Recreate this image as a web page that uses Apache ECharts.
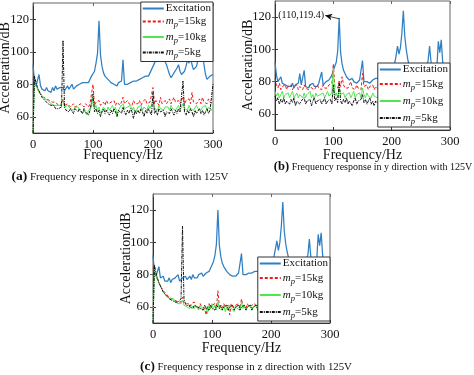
<!DOCTYPE html>
<html>
<head>
<meta charset="utf-8">
<script src="https://cdn.jsdelivr.net/npm/echarts@6/dist/echarts.min.js"></script>
<style>
  html, body { margin: 0; padding: 0; background: #fff; }
  #chart { width: 474px; height: 375px; }
</style>
</head>
<body>
<div id="chart"></div>
<script>
// frequency grid, Hz
const freq = [
  0, 2.5, 5, 7.5, 10, 12.5, 15, 17.5, 20, 22.5,
  25, 27.5, 30, 32.5, 35, 37.5, 40, 42.5, 45, 47.5,
  50, 52.5, 55, 57.5, 60, 62.5, 65, 67.5, 70, 72.5,
  75, 77.5, 80, 82.5, 85, 87.5, 90, 92.5, 95, 97.5,
  100, 102.5, 105, 107.5, 110, 112.5, 115, 117.5, 120, 122.5,
  125, 127.5, 130, 132.5, 135, 137.5, 140, 142.5, 145, 147.5,
  150, 152.5, 155, 157.5, 160, 162.5, 165, 167.5, 170, 172.5,
  175, 177.5, 180, 182.5, 185, 187.5, 190, 192.5, 195, 197.5,
  200, 202.5, 205, 207.5, 210, 212.5, 215, 217.5, 220, 222.5,
  225, 227.5, 230, 232.5, 235, 237.5, 240, 242.5, 245, 247.5,
  250, 252.5, 255, 257.5, 260, 262.5, 265, 267.5, 270, 272.5,
  275, 277.5, 280, 282.5, 285, 287.5, 290, 292.5, 295, 297.5,
  300
]
const yTicks = [60, 80, 100, 120]
const seriesNames = ["Excitation", "mp=15kg", "mp=10kg", "mp=5kg"]
const captions = [
  ["(a)", "Frequency response in x direction with 125V"],
  ["(b)", "Frequency response in y direction with 125V"],
  ["(c)", "Frequency response in z direction with 125V"]
]
const peakLabelB = [110, 119.4]

// (a) x direction
const aExc = [
  92, 82, 79, 80, 86, 79, 77, 78, 76, 78,
  76, 77, 75, 78, 76, 79, 77, 76, 78, 77,
  78, 76, 77, 79, 77, 78, 80, 77, 78, 79,
  78, 80, 79, 81, 80, 81, 82, 81, 83, 85,
  86, 88, 93, 99, 119, 98, 91, 87, 85, 84,
  83, 82, 81, 82, 80, 81, 79, 81, 80, 82,
  95, 80, 79, 80, 79, 81, 80, 82, 81, 82,
  81, 83, 82, 84, 83, 85, 86, 85, 87, 89,
  90, 93, 95, 97, 96, 98, 95, 97, 94, 92,
  89, 86, 84, 85, 87, 86, 90, 92, 88, 86,
  85, 88, 91, 95, 93, 97, 92, 89, 88, 91,
  95, 98, 94, 99, 92, 86, 83, 82, 85, 84,
  86
]
const a15 = [
  83, 82, 79, 77, 76, 74, 73, 72, 72, 71,
  70, 70, 69, 69, 68, 69, 68, 67, 68, 67,
  71, 67, 66, 68, 67, 66, 67, 68, 66, 67,
  67, 66, 68, 67, 66, 68, 67, 66, 68, 67,
  80, 67, 69, 68, 70, 67, 68, 69, 67, 70,
  68, 67, 69, 68, 70, 67, 69, 68, 67, 69,
  72, 68, 67, 70, 68, 69, 67, 70, 68, 69,
  68, 70, 67, 69, 68, 71, 68, 67, 69, 68,
  78, 68, 70, 69, 67, 72, 68, 69, 70, 68,
  69, 71, 68, 70, 72, 69, 68, 70, 68, 69,
  72, 68, 70, 69, 71, 68, 75, 69, 70, 68,
  69, 71, 68, 72, 69, 70, 68, 71, 69, 70,
  68
]
const a10 = [
  50, 81, 79, 77, 75, 74, 73, 72, 71, 70,
  70, 69, 68, 69, 67, 68, 67, 66, 67, 66,
  70, 66, 65, 67, 66, 65, 66, 64, 66, 65,
  66, 64, 65, 62, 64, 65, 61, 64, 65, 66,
  72, 65, 67, 64, 66, 62, 64, 66, 65, 63,
  66, 64, 65, 67, 64, 66, 61, 64, 66, 65,
  68, 65, 64, 66, 65, 67, 64, 66, 62, 64,
  66, 65, 67, 64, 66, 65, 64, 67, 65, 66,
  70, 65, 66, 64, 67, 65, 66, 64, 66, 65,
  66, 64, 67, 65, 66, 64, 65, 67, 64, 66,
  68, 65, 66, 64, 67, 65, 66, 64, 65, 67,
  65, 66, 64, 66, 65, 67, 64, 66, 65, 64,
  66
]
const a5 = [
  50, 85, 81, 78, 76, 74, 72, 71, 70, 69,
  68, 68, 67, 66, 67, 65, 66, 65, 64, 66,
  107, 66, 64, 65, 63, 65, 64, 62, 65, 64,
  63, 65, 64, 62, 65, 63, 64, 61, 64, 63,
  74, 63, 65, 62, 64, 60, 63, 65, 62, 64,
  63, 61, 64, 62, 65, 63, 60, 64, 63, 62,
  66, 63, 61, 64, 62, 65, 63, 59, 64, 62,
  64, 62, 65, 63, 60, 64, 62, 65, 63, 61,
  75, 62, 64, 61, 65, 63, 62, 64, 60, 63,
  64, 62, 65, 63, 61, 64, 62, 65, 63, 62,
  82, 63, 61, 64, 62, 65, 63, 60, 64, 62,
  63, 65, 62, 64, 61, 63, 65, 62, 64, 63,
  80
]

// (b) y direction
const bExc = [
  92, 84, 80, 81, 83, 79, 80, 78, 79, 77,
  78, 77, 79, 76, 78, 77, 79, 85, 78, 77,
  87, 77, 78, 76, 78, 77, 79, 77, 78, 77,
  79, 78, 86, 78, 79, 80, 79, 81, 82, 84,
  87, 88, 92, 99, 119.4, 98, 91, 87, 85, 83,
  82, 81, 80, 82, 80, 81, 79, 80, 81, 80,
  93, 80, 79, 80, 81, 79, 80, 81, 80, 82,
  81, 82, 81, 83, 82, 84, 83, 85, 84, 86,
  86, 88, 91, 96, 102, 97, 101, 110, 124, 108,
  100, 94, 90, 88, 86, 85, 84, 86, 85, 84,
  85, 84, 86, 88, 90, 93, 102, 92, 87, 86,
  86, 89, 105, 98, 106, 92, 87, 85, 86, 84,
  85
]
const b15 = [
  82, 78, 76, 79, 75, 77, 76, 78, 75, 77,
  76, 78, 75, 77, 76, 78, 75, 77, 76, 75,
  78, 76, 77, 75, 78, 76, 77, 75, 76, 78,
  76, 77, 75, 78, 76, 77, 76, 78, 77, 79,
  91, 77, 78, 76, 80, 77, 83, 78, 76, 77,
  76, 78, 80, 76, 77, 75, 78, 76, 77, 75,
  85, 77, 76, 78, 75, 77, 76, 78, 75, 77,
  76, 75, 77, 76, 78, 75, 77, 76, 78, 76,
  77, 75, 78, 76, 77, 75, 78, 76, 77, 75,
  76, 78, 75, 77, 76, 78, 75, 77, 76, 78,
  75, 77, 76, 78, 75, 77, 79, 76, 77, 75,
  77, 76, 78, 75, 77, 76, 78, 75, 77, 76,
  77
]
const b10 = [
  74, 71, 73, 70, 72, 74, 70, 72, 71, 73,
  70, 72, 74, 70, 71, 73, 70, 72, 71, 70,
  73, 70, 72, 71, 74, 70, 72, 69, 73, 71,
  70, 72, 71, 73, 70, 72, 74, 71, 70, 73,
  88, 71, 73, 70, 76, 72, 71, 73, 70, 72,
  71, 73, 70, 72, 74, 70, 72, 71, 73, 70,
  76, 72, 70, 73, 71, 72, 70, 73, 71, 72,
  70, 72, 71, 73, 70, 72, 71, 70, 73, 71,
  72, 70, 73, 71, 72, 70, 73, 71, 72, 70,
  71, 73, 70, 72, 71, 73, 70, 72, 71, 73,
  70, 72, 71, 73, 70, 72, 71, 73, 70, 72,
  71, 73, 70, 72, 71, 70, 73, 71, 72, 70,
  72
]
const b5 = [
  71, 68, 70, 66, 69, 67, 70, 66, 68, 69,
  66, 69, 67, 70, 65, 68, 69, 66, 68, 67,
  70, 66, 68, 67, 69, 65, 68, 70, 66, 68,
  67, 69, 66, 68, 70, 66, 68, 67, 69, 66,
  78, 68, 70, 67, 80, 68, 66, 69, 67, 70,
  66, 68, 69, 65, 68, 70, 66, 68, 67, 69,
  72, 67, 69, 66, 68, 70, 66, 68, 65, 68,
  69, 66, 68, 70, 66, 68, 67, 69, 66, 68,
  67, 69, 66, 68, 70, 66, 68, 67, 69, 66,
  68, 70, 66, 68, 67, 69, 66, 68, 70, 67,
  66, 68, 69, 67, 70, 66, 68, 67, 69, 66,
  68, 67, 69, 66, 68, 70, 67, 68, 66, 69,
  67
]

// (c) z direction
const cExc = [
  92, 81, 79, 80, 85, 78, 77, 79, 76, 77,
  76, 78, 75, 77, 76, 78, 77, 80, 76, 77,
  78, 77, 79, 77, 78, 79, 77, 80, 78, 79,
  78, 80, 79, 81, 79, 80, 81, 82, 82, 84,
  86, 88, 92, 99, 120, 98, 91, 87, 85, 84,
  82, 81, 80, 81, 79, 80, 79, 80, 81, 80,
  93, 80, 79, 80, 79, 81, 80, 81, 80, 82,
  81, 82, 81, 83, 82, 84, 83, 85, 84, 86,
  86, 88, 91, 96, 101, 95, 100, 110, 125, 107,
  99, 94, 90, 88, 86, 85, 84, 86, 85, 84,
  85, 84, 86, 88, 90, 92, 102, 91, 87, 86,
  86, 89, 105, 98, 106, 92, 87, 85, 86, 84,
  85
]
const c15 = [
  84, 82, 79, 77, 75, 73, 72, 70, 69, 68,
  68, 66, 67, 65, 66, 64, 65, 63, 64, 63,
  66, 62, 63, 61, 62, 60, 62, 61, 63, 60,
  61, 59, 62, 60, 61, 59, 55, 60, 62, 59,
  61, 60, 62, 59, 70, 60, 61, 59, 62, 60,
  59, 61, 55, 62, 60, 59, 61, 60, 62, 59,
  65, 60, 61, 59, 62, 60, 59, 61, 60, 62,
  60, 59, 62, 60, 61, 59, 62, 60, 61, 59,
  61, 60, 62, 59, 61, 60, 62, 60, 59, 61,
  60, 62, 59, 61, 60, 62, 59, 61, 60, 62,
  59, 61, 60, 62, 59, 61, 60, 62, 59, 61,
  60, 62, 59, 61, 60, 59, 62, 60, 61, 59,
  60
]
const c10 = [
  50, 83, 80, 77, 75, 73, 71, 70, 68, 67,
  66, 66, 65, 64, 65, 63, 64, 62, 63, 62,
  64, 61, 62, 60, 61, 59, 61, 60, 59, 61,
  60, 58, 61, 59, 60, 58, 60, 56, 61, 59,
  62, 59, 61, 58, 63, 59, 60, 58, 61, 57,
  60, 58, 61, 59, 60, 57, 61, 59, 60, 58,
  63, 59, 61, 58, 60, 59, 61, 58, 60, 59,
  61, 58, 60, 59, 61, 58, 60, 59, 61, 58,
  60, 59, 61, 58, 60, 59, 61, 58, 60, 59,
  61, 58, 60, 59, 61, 58, 60, 59, 61, 58,
  60, 59, 61, 58, 60, 59, 61, 58, 60, 59,
  61, 58, 60, 59, 61, 58, 60, 59, 61, 58,
  60
]
const c5 = [
  50, 86, 81, 78, 75, 73, 71, 69, 68, 67,
  66, 65, 66, 64, 65, 63, 64, 63, 62, 65,
  110, 65, 62, 61, 62, 60, 61, 59, 61, 60,
  60, 61, 59, 60, 58, 61, 59, 60, 58, 61,
  59, 60, 58, 61, 60, 59, 61, 58, 60, 59,
  61, 58, 60, 59, 61, 58, 60, 59, 61, 58,
  60, 59, 61, 58, 60, 59, 61, 58, 60, 59,
  61, 58, 60, 59, 61, 58, 60, 59, 61, 58,
  60, 59, 61, 58, 60, 59, 61, 58, 60, 59,
  61, 58, 60, 59, 61, 58, 60, 59, 61, 58,
  60, 59, 61, 58, 60, 59, 61, 58, 60, 59,
  61, 58, 60, 59, 61, 58, 60, 59, 61, 58,
  60
]

const panels = [
  { data: [aExc, a15, a10, a5], grid: { left: 33, top: 3, width: 180, height: 130 }, xGap: 15, yGap: 21, legend: { right: 261, top: 2, gap: 2 }, caption: { x: 120, y: 177, size: 11 } },
  { data: [bExc, b15, b10, b5], grid: { left: 275, top: 1, width: 175, height: 129 }, xGap: 18, yGap: 20, legend: { right: 24, top: 63, gap: 3.5 }, caption: { x: 373, y: 167, size: 10 } },
  { data: [cExc, c15, c10, c5], grid: { left: 153, top: 194, width: 177, height: 129 }, xGap: 18, yGap: 20, legend: { right: 144, top: 257, gap: 3.5 }, caption: { x: 246, y: 367, size: 10.8 } }
]

const serif = "Liberation Serif"
const styles = [
  { color: "#2f7fc3", width: 1.25, type: "solid" },
  { color: "#f01818", width: 1, type: [3, 2] },
  { color: "#4de84d", width: 1, type: "solid" },
  { color: "#111111", width: 1, type: [3, 1, 1, 1] }
]

const grids = [], xAxes = [], yAxes = [], series = [], legends = [], titles = []
const mirrorX = [], mirrorY = []
panels.forEach((p, k) => {
  grids.push({ ...p.grid, outerBoundsMode: "none", containLabel: false, show: true, borderColor: "#666", borderWidth: 1, backgroundColor: "#fff" })
  xAxes.push({
    type: "value", gridIndex: k, min: 0, max: 300, interval: 100,
    name: "Frequency/Hz", nameLocation: "middle", nameGap: p.xGap, nameMoveOverlap: false,
    nameTextStyle: { fontFamily: serif, fontSize: 14, color: "#111" },
    axisLine: { show: true, onZero: false, lineStyle: { color: "#333" } },
    axisTick: { inside: true, length: 3, lineStyle: { color: "#333" } },
    axisLabel: { fontFamily: serif, fontSize: 12.5, color: "#111", margin: 5 },
    splitLine: { show: false }
  })
  yAxes.push({
    type: "value", gridIndex: k, min: 50, max: 130,
    name: "Acceleration/dB", nameLocation: "middle", nameGap: p.yGap, nameMoveOverlap: false,
    nameTextStyle: { fontFamily: serif, fontSize: 14, color: "#111" },
    axisLine: { show: true, onZero: false, lineStyle: { color: "#333" } },
    axisTick: { inside: true, length: 3, customValues: yTicks, lineStyle: { color: "#333" } },
    axisLabel: { fontFamily: serif, fontSize: 12.5, color: "#111", margin: 4, customValues: yTicks },
    splitLine: { show: false }
  })
  // box ticks on top and right
  mirrorX.push({
    type: "value", gridIndex: k, position: "top", min: 0, max: 300, interval: 100,
    axisLine: { show: false }, axisLabel: { show: false }, splitLine: { show: false },
    axisTick: { inside: true, length: 3, lineStyle: { color: "#666" } }
  })
  mirrorY.push({
    type: "value", gridIndex: k, position: "right", min: 50, max: 130,
    axisLine: { show: false }, axisLabel: { show: false }, splitLine: { show: false },
    axisTick: { inside: true, length: 3, customValues: yTicks, lineStyle: { color: "#666" } }
  })
  p.data.forEach((vals, s) => {
    const st = styles[s]
    const item = {
      name: seriesNames[s], type: "line", xAxisIndex: k, yAxisIndex: k,
      data: freq.map((f, i) => [f, vals[i]]),
      showSymbol: false, symbol: "none", animation: false,
      color: st.color,
      lineStyle: { color: st.color, width: st.width, type: st.type },
      z: 2 + s
    }
    if (k === 1 && s === 0) {
      item.markLine = {
        silent: true, animation: false,
        symbol: ["none", "arrow"], symbolSize: [5, 7],
        lineStyle: { color: "#111", width: 0.8, type: "solid" },
        label: {
          show: true, position: "end", distance: 1,
          formatter: "(" + peakLabelB[0] + "," + peakLabelB[1] + ")",
          fontFamily: serif, fontSize: 10, color: "#111"
        },
        data: [[{ coord: [peakLabelB[0] + 1, peakLabelB[1] - 0.5] }, { coord: [86, 121] }]]
      }
    }
    series.push(item)
  })
  legends.push({
    orient: "vertical", right: p.legend.right, top: p.legend.top, z: 20,
    data: seriesNames,
    backgroundColor: "#fff", borderColor: "#333", borderWidth: 1,
    padding: [1, 2, 1, 1], itemGap: p.legend.gap, itemWidth: 21, itemHeight: 10,
    selectedMode: false,
    itemStyle: { opacity: 0 },
    lineStyle: { opacity: 1 },
    formatter: n => n === "Excitation" ? n : "{m|m}{p|p}" + n.slice(2),
    textStyle: {
      fontFamily: serif, fontSize: 11, color: "#111", padding: [0, 0, 0, -3],
      rich: {
        m: { fontFamily: serif, fontSize: 11, fontStyle: "italic", color: "#111" },
        p: { fontFamily: serif, fontSize: 8.5, fontStyle: "italic", color: "#111", padding: [7, 0, 0, 0] }
      }
    }
  })
  titles.push({
    text: "{b|" + captions[k][0] + "} " + captions[k][1],
    left: p.caption.x, top: p.caption.y, textAlign: "center", textVerticalAlign: "middle",
    padding: 0,
    textStyle: {
      fontFamily: serif, fontSize: p.caption.size, fontWeight: "normal", color: "#111",
      rich: { b: { fontFamily: serif, fontSize: p.caption.size + 2.5, fontWeight: "bold", color: "#111" } }
    }
  })
})

const myChart = echarts.init(document.getElementById("chart"), null, { renderer: "canvas" })
myChart.setOption({
  animation: false,
  title: titles,
  grid: grids,
  xAxis: xAxes.concat(mirrorX),
  yAxis: yAxes.concat(mirrorY),
  legend: legends,
  series: series
})
</script>
</body>
</html>
